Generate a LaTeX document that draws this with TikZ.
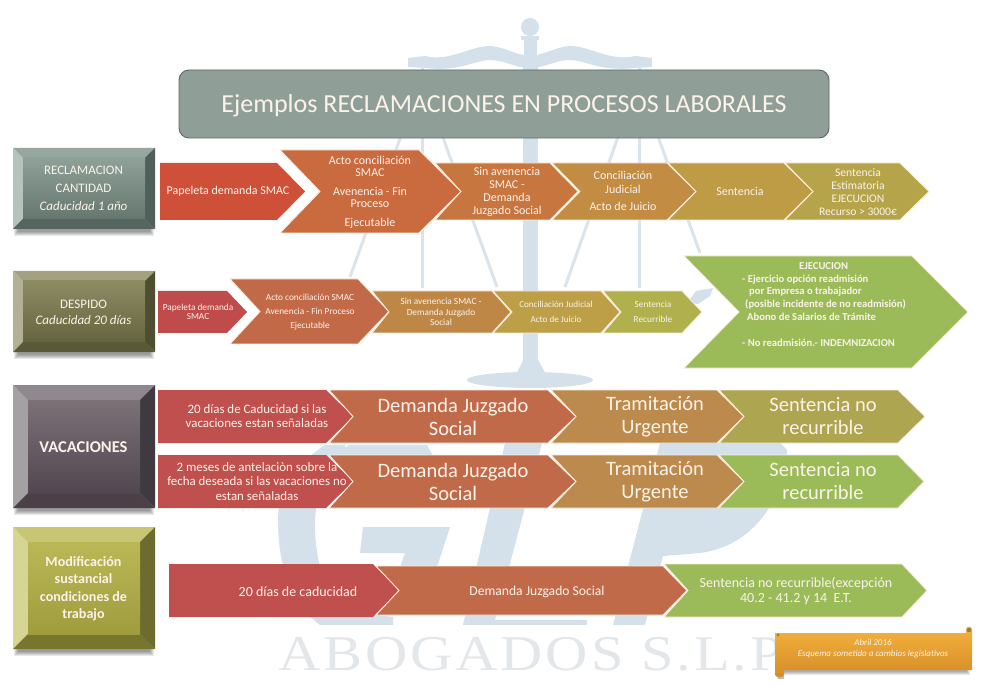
\documentclass[tikz,border=0pt]{standalone}
\usepackage{fontspec}
\setmainfont{Carlito}
\newfontfamily\wmfont[LetterSpace=5]{Liberation Serif}
\definecolor{wm}{HTML}{D4E0EA}
\definecolor{wmline}{HTML}{DCE4EB}
\definecolor{firmgray}{HTML}{E3E7EA}
\definecolor{txt}{HTML}{FBF3EA}
\definecolor{edge}{HTML}{F8EDDD}
\definecolor{titlefill}{HTML}{8F9F97}
\definecolor{titleedge}{HTML}{5C6862}
\definecolor{noteT}{HTML}{F3B340}
\definecolor{noteB}{HTML}{D58B24}
\definecolor{noteK}{HTML}{9A7A4A}
% bevel palettes
\definecolor{aT}{HTML}{96A79F}\definecolor{aL}{HTML}{B6C3BD}\definecolor{aR}{HTML}{4F5F5A}\definecolor{aB}{HTML}{55655F}\definecolor{aF}{HTML}{8FA098}\definecolor{aG}{HTML}{66776F}
\definecolor{bT}{HTML}{A2A182}\definecolor{bL}{HTML}{B2B195}\definecolor{bR}{HTML}{4E4F30}\definecolor{bB}{HTML}{595938}\definecolor{bF}{HTML}{8C8B62}\definecolor{bG}{HTML}{66653F}
\definecolor{cT}{HTML}{8F888E}\definecolor{cL}{HTML}{A5A0A4}\definecolor{cR}{HTML}{3F3A3F}\definecolor{cB}{HTML}{4A4046}\definecolor{cF}{HTML}{7C7177}\definecolor{cG}{HTML}{524750}
\definecolor{dT}{HTML}{C8C672}\definecolor{dL}{HTML}{D6D594}\definecolor{dR}{HTML}{6C6C2E}\definecolor{dB}{HTML}{76762F}\definecolor{dF}{HTML}{BAB856}\definecolor{dG}{HTML}{9E9C3D}
\tikzset{
  lbl/.style={text=txt,align=center,inner sep=0pt},
  lb/.style args={#1/#2}{lbl,font=\fontsize{#1}{#2}\selectfont},
  lbi/.style args={#1/#2}{lbl,font=\fontsize{#1}{#2}\selectfont\itshape},
  lbb/.style args={#1/#2}{lbl,font=\fontsize{#1}{#2}\selectfont\bfseries},
  wmstroke/.style={draw=wmline,line width=3pt}
}
% left, notch, shoulder, tip, top, bottom, colour
\newcommand{\chev}[7]{%
  \fill[draw=edge,line width=.9pt,fill=#7] (#1,#5) -- (#3,#5) -- (#4,{(#5+#6)/2}) -- (#3,#6) -- (#1,#6) -- (#2,{(#5+#6)/2}) -- cycle;}
% palette, x1,y1,x2,y2, bevel
\newcommand{\bevbox}[6]{%
  \foreach \d in {0,1,2,3,4}{\fill[black,opacity=.09] ({#2+1+\d},{#3+4}) rectangle ({#4-1-\d},{#5+7-\d});}
  \fill[#1T] (#2,#3) -- (#4,#3) -- ({#4-#6},{#3+#6}) -- ({#2+#6},{#3+#6}) -- cycle;
  \fill[#1L] (#2,#3) -- ({#2+#6},{#3+#6}) -- ({#2+#6},{#5-#6}) -- (#2,#5) -- cycle;
  \fill[#1R] (#4,#3) -- ({#4-#6},{#3+#6}) -- ({#4-#6},{#5-#6}) -- (#4,#5) -- cycle;
  \fill[#1B] (#2,#5) -- ({#2+#6},{#5-#6}) -- ({#4-#6},{#5-#6}) -- (#4,#5) -- cycle;
  \shade[top color=#1F,bottom color=#1G] ({#2+#6},{#3+#6}) rectangle ({#4-#6},{#5-#6});}
\begin{document}
\begin{tikzpicture}[x=1pt,y=-1pt]
\useasboundingbox (0,0) rectangle (990,700);
\fill[white] (0,0) rectangle (990,700);
% ---------- watermark: scales
\fill[wm] (530,27) circle (9);
\fill[wm] (521,36) rectangle (539,40);
\fill[wm] (524,40) rectangle (537,60);
\fill[wm] (523,60) rectangle (538,372);
\fill[wm] (408,58) -- (425,56) .. controls (450,62) and (470,46) .. (490,46) .. controls (505,47) and (515,55) .. (530,56) .. controls (545,55) and (555,47) .. (570,46) .. controls (590,46) and (610,62) .. (635,56) -- (652,58) -- (652,67) -- (635,68) .. controls (600,72) and (585,60) .. (570,60) .. controls (555,60) and (545,68) .. (530,68) .. controls (515,68) and (505,60) .. (490,60) .. controls (475,60) and (460,72) .. (425,68) -- (408,67) -- cycle;
\draw[wmstroke] (414,100) -- (350,277);
\draw[wmstroke] (422,66) -- (422,288);
\draw[wmstroke] (433,110) -- (497,287);
\draw[wmstroke] (631,100) -- (565,287);
\draw[wmstroke] (639,66) -- (639,288);
\draw[wmstroke] (652,120) -- (700,253);
\fill[wm] (687,303) -- (696,291) -- (713,288) -- (710,296) -- (698,304) -- cycle;
\fill[wm] (516,375) .. controls (520,365) and (524,362) .. (525,350) -- (536,350) .. controls (537,362) and (542,365) .. (546,375) -- cycle;
\fill[wm] (530,380) ellipse (63 and 8);
% ---------- watermark: G L P
\fill[wm] (350,445) -- (427,445) -- (433,456) -- (325,456) -- cycle;
\fill[wm] (325,445) .. controls (295,465) and (278,490) .. (278,520) .. controls (278,580) and (300,610) .. (320,625) -- (393,625) -- (393,617) -- (340,610) .. controls (325,590) and (315,560) .. (315,525) .. controls (315,495) and (325,470) .. (345,455) -- (345,445) -- cycle;
\fill[wm] (363,527) -- (450,527) -- (437,567) -- (400,567) -- (405,553) -- (360,553) -- cycle;
\fill[wm] (505,443) -- (542,443) -- (495,620) -- (587,620) -- (587,625) -- (463,625) -- cycle;
\fill[wm] (660,443) -- (780,443) -- (787,450) .. controls (785,490) and (760,545) .. (700,553) -- (663,556) -- (645,625) -- (613,625) -- cycle;
% ---------- watermark: firm name
\node[text=firmgray,inner sep=0pt,anchor=base west,font=\fontsize{50}{50}\selectfont\wmfont] (firm) at (278,670) {\scalebox{1.17}[1]{ABOGADOS S.L.P}};
% ---------- title
\node[draw=titleedge,line width=.9pt,rounded corners=10pt,minimum width=650pt,minimum height=68pt,inner sep=0pt,fill=titlefill,text=txt,font=\fontsize{26}{30}\selectfont] (title) at (504,104) {\smash{\raisebox{-9pt}{Ejemplos RECLAMACIONES EN PROCESOS LABORALES}}};
% ---------- bevelled row headers
\bevbox{a}{13}{148}{155}{229}{10}
\node[lb=13/18] (h1) at (83.5,188.5) {RECLAMACION\\CANTIDAD\\\itshape Caducidad 1 año};
\bevbox{b}{13}{271}{155}{352}{10}
\node[lb=13/16] (h2) at (83.5,312.5) {DESPIDO\\\itshape Caducidad 20 días};
\bevbox{c}{13}{385}{155}{508}{15}
\node[lbb=16.5/18] (h3) at (83.5,447) {VACACIONES};
\bevbox{d}{13}{527}{155}{649}{15}
\node[lbb=14.1/17.5] (h4) at (83.5,588.5) {Modificación\\sustancial\\condiciones de\\trabajo};
% ---------- row 1
\definecolor{k1}{HTML}{CF5038}\definecolor{k2}{HTML}{C96A3F}\definecolor{k3}{HTML}{C8763F}\definecolor{k4}{HTML}{C28C42}\definecolor{k5}{HTML}{BE9B45}\definecolor{k6}{HTML}{B5A449}
\fill[k1] (160,163) -- (277,163) -- (305,191.5) -- (277,220) -- (160,220) -- cycle;
\chev{280}{320}{419}{461}{150}{233}{k2}
\chev{435}{461}{550}{578}{163}{220}{k3}
\chev{552}{580}{667}{696}{163}{220}{k4}
\chev{668}{696}{784}{813}{163}{220}{k5}
\chev{785}{813}{900}{929}{163}{220}{k6}
\node[lb=12/12] (a1) at (228,191.5) {Papeleta demanda SMAC};
\node[lb=12/12.5] (a2) at (370,192.5) {Acto conciliación\\SMAC\\[6pt]Avenencia - Fin\\Proceso\\[6.5pt]Ejecutable};
\node[lb=12/13] (a3) at (507,192) {Sin avenencia\\SMAC -\\Demanda\\Juzgado Social};
\node[lb=12/13.5] (a4) at (623,191) {Conciliación\\Judicial\\[4pt]Acto de Juicio};
\node[lb=12/12] (a5) at (740,191.5) {Sentencia};
\node[lb=11.6/13] (a6) at (858,192) {Sentencia\\Estimatoria\\EJECUCION\\Recurso > 3000€};
% ---------- row 2
\definecolor{m1}{HTML}{BF4B4A}\definecolor{m2}{HTML}{C26A48}\definecolor{m3}{HTML}{BE8745}\definecolor{m4}{HTML}{BD9F47}\definecolor{m5}{HTML}{B0B04C}\definecolor{m6}{HTML}{9BBB59}
\fill[m1] (158,291) -- (227,291) -- (247,312) -- (227,333) -- (158,333) -- cycle;
\chev{230}{260}{358}{389}{279}{344}{m2}
\chev{372}{389}{492}{511}{291}{333}{m3}
\chev{493}{512}{601}{620}{291}{333}{m4}
\chev{603}{621}{682}{702}{291}{333}{m5}
\chev{684}{739}{912}{968}{256}{368}{m6}
\node[lb=9.3/9.5] (b1) at (198,312) {Papeleta demanda\\SMAC};
\node[lb=9.3/10] (b2) at (310,312) {Acto conciliación SMAC\\[4.5pt]Avenencia - Fin Proceso\\[4pt]Ejecutable};
\node[lb=9.3/10.5] (b3) at (441,312) {Sin avenencia SMAC -\\Demanda Juzgado\\Social};
\node[lb=9.1/10] (b4) at (556,312) {Conciliación Judicial\\[5pt]Acto de Juicio};
\node[lb=9.3/10] (b5) at (653,312) {Sentencia\\[5pt]Recurrible};
\node[lbb=10.6/12.9,anchor=north west,align=left] (b6) at (742,262) {\hspace*{57pt}EJECUCION\\- Ejercicio opción readmisión\\\hspace*{7pt}por Empresa o trabajador\\\hspace*{3pt}(posible incidente de no readmisión)\\\hspace*{5pt}Abono de Salarios de Trámite\\[13pt]- No readmisión.- INDEMNIZACION};
% ---------- rows 3 and 4
\definecolor{n1}{HTML}{C0504D}\definecolor{n2}{HTML}{C06A4A}\definecolor{n3}{HTML}{BC8A4C}\definecolor{n4}{HTML}{ADA54F}\definecolor{n5}{HTML}{9BBB59}
\fill[n1] (158,390) -- (326,390) -- (353,416.5) -- (326,443) -- (158,443) -- cycle;
\chev{329}{353}{548}{576}{390}{443}{n2}
\chev{551}{576}{717}{744}{390}{443}{n3}
\chev{719}{744}{898}{925}{390}{443}{n4}
\fill[n1] (158,455) -- (326,455) -- (353,481.5) -- (326,508) -- (158,508) -- cycle;
\chev{329}{353}{548}{576}{455}{508}{n2}
\chev{551}{576}{717}{744}{455}{508}{n3}
\chev{719}{744}{898}{924}{455}{508}{n5}
\node[lb=12.9/14.5] (c1) at (257,416) {20 días de Caducidad si las\\vacaciones estan señaladas};
\node[lb=20.5/23] (c2) at (453,416.5) {Demanda Juzgado\\Social};
\node[lb=20.5/23] (c3) at (655,417) {Tramitación\\Urgente};
\node[lb=20.5/23] (c4) at (823,416.5) {Sentencia no\\recurrible};
\node[lb=12.9/14.2] (e1) at (257,481.5) {2 meses de antelaciòn sobre la\\fecha deseada si las vacaciones no\\estan señaladas};
\node[lb=20.5/23] (e2) at (453,481.5) {Demanda Juzgado\\Social};
\node[lb=20.5/23] (e3) at (655,482) {Tramitación\\Urgente};
\node[lb=20.5/23] (e4) at (823,481.5) {Sentencia no\\recurrible};
% ---------- row 5
\fill[n1] (169,564) -- (373,564) -- (399,590.5) -- (373,617) -- (169,617) -- cycle;
\chev{376}{399}{663}{687}{566}{615}{n2}
\chev{664}{688}{902}{927}{564}{617}{n5}
\node[lb=14/15] (d1) at (298,591.5) {20 días de caducidad};
\node[lb=13.6/15] (d2) at (537,591.5) {Demanda Juzgado Social};
\node[lb=14/15] (d3) at (796,591) {Sentencia no recurrible(excepción\\40.2 - 41.2 y 14\ \ E.T.};
% ---------- note ribbon
\foreach \d in {0,1,2,3}{\fill[black,opacity=.09] ({778+\d},640) rectangle ({970-\d},{675-\d});}
\fill[black,opacity=.25] (778,670) rectangle (784,679);
\shade[top color=noteT,bottom color=noteB] (775,633) -- (966,633) -- (966,629) .. controls (967,626) and (971,626) .. (972,629) -- (972,670) -- (784,670) -- (784,675) .. controls (782,678) and (777,678) .. (775,675) -- cycle;
\fill[noteK] (969,630) circle (2.2);
\fill[noteK] (778,635) circle (1.5);
\node[lbi=9/11] (note) at (873,649) {Abril 2016\\Esquema sometido a cambios legislativos};
\end{tikzpicture}
\end{document}
